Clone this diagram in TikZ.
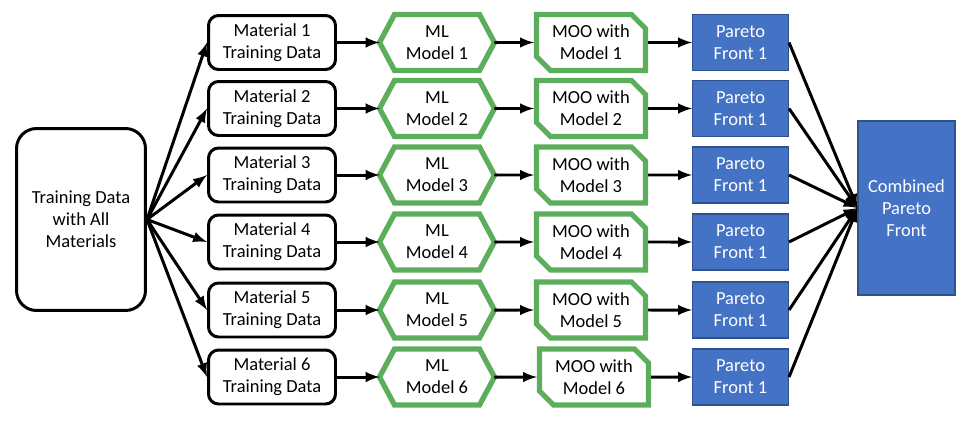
\documentclass[tikz,border=0pt]{standalone}
\usepackage{fontspec}
\setmainfont{Carlito}
\usepackage{xcolor}
\usepackage{tikz}
\usetikzlibrary{arrows}
\usetikzlibrary{shapes.misc}
\definecolor{moogreen}{RGB}{92,173,92}
\definecolor{paretoblue}{RGB}{68,114,196}
\definecolor{paretoedge}{RGB}{47,82,143}
\tikzstyle{alldata} = [draw, line width=1.7pt, rounded corners=0.4cm, minimum width=2.58cm, minimum height=3.64cm, align=center]
\tikzstyle{matdata} = [draw, line width=1.7pt, rounded corners=0.2cm, minimum width=2.54cm, minimum height=1.08cm, align=center]
\tikzstyle{mlmodel} = [minimum width=2.3cm, minimum height=1.12cm, outer sep=0pt, align=center,
	append after command={\pgfextra{\draw[draw=moogreen, line width=3pt]
		(\tikzlastnode.west) -- ([xshift=0.3cm]\tikzlastnode.north west)
		-- ([xshift=-0.3cm]\tikzlastnode.north east) -- (\tikzlastnode.east)
		-- ([xshift=-0.3cm]\tikzlastnode.south east) -- ([xshift=0.3cm]\tikzlastnode.south west) -- cycle;}}]
\tikzstyle{moo} = [draw=moogreen, line width=3pt, chamfered rectangle, chamfered rectangle corners={north east, south west}, chamfered rectangle xsep=0.14cm, chamfered rectangle ysep=0.14cm, minimum width=2.18cm, minimum height=1.12cm, inner sep=0pt, align=center]
\tikzstyle{pareto} = [draw=paretoedge, fill=paretoblue, line width=0.6pt, text=white, minimum width=1.92cm, minimum height=1.12cm, align=center]
\tikzstyle{link} = [->, >=latex, line width=1.7pt]
\begin{document}
\begin{tikzpicture}[x=0.02cm, y=-0.02cm, font=\fontsize{10.5}{12.5}\selectfont]
	\useasboundingbox (0,0) rectangle (969,420);

	\node[alldata] (all) at (81, 219.5) {Training Data\\with All\\Materials} ;

	\node[matdata] (m1) at (272, 42.5) {Material 1\\Training Data} ;
	\node[matdata] (m2) at (272, 108.5) {Material 2\\Training Data} ;
	\node[matdata] (m3) at (272, 175) {Material 3\\Training Data} ;
	\node[matdata] (m4) at (272, 242) {Material 4\\Training Data} ;
	\node[matdata] (m5) at (272, 310) {Material 5\\Training Data} ;
	\node[matdata] (m6) at (272, 377) {Material 6\\Training Data} ;

	\node[mlmodel] (ml1) at (437, 42.5) {ML\\Model 1} ;
	\node[mlmodel] (ml2) at (437, 108.5) {ML\\Model 2} ;
	\node[mlmodel] (ml3) at (437, 175) {ML\\Model 3} ;
	\node[mlmodel] (ml4) at (437, 242) {ML\\Model 4} ;
	\node[mlmodel] (ml5) at (437, 310) {ML\\Model 5} ;
	\node[mlmodel] (ml6) at (437, 377) {ML\\Model 6} ;

	\node[moo] (o1) at (591, 42.5) {MOO with\\Model 1} ;
	\node[moo] (o2) at (591, 108.5) {MOO with\\Model 2} ;
	\node[moo] (o3) at (591, 175) {MOO with\\Model 3} ;
	\node[moo] (o4) at (591, 242) {MOO with\\Model 4} ;
	\node[moo] (o5) at (591, 310) {MOO with\\Model 5} ;
	\node[moo] (o6) at (594, 377) {MOO with\\Model 6} ;

	\node[pareto] (p1) at (740.5, 42.5) {Pareto\\Front 1} ;
	\node[pareto] (p2) at (740.5, 108.5) {Pareto\\Front 1} ;
	\node[pareto] (p3) at (740.5, 175) {Pareto\\Front 1} ;
	\node[pareto] (p4) at (740.5, 242) {Pareto\\Front 1} ;
	\node[pareto] (p5) at (740.5, 310) {Pareto\\Front 1} ;
	\node[pareto] (p6) at (740.5, 377) {Pareto\\Front 1} ;

	\node[pareto, minimum width=1.94cm, minimum height=3.48cm] (comb) at (906.5, 208) {Combined\\Pareto\\Front} ;

	\draw[link] (all.east) -- (m1.west) ;
	\draw[link] (all.east) -- (m2.west) ;
	\draw[link] (all.east) -- (m3.west) ;
	\draw[link] (all.east) -- (m4.west) ;
	\draw[link] (all.east) -- (m5.west) ;
	\draw[link] (all.east) -- (m6.west) ;

	\draw[link] (m1) -- (ml1) ;
	\draw[link] (m2) -- (ml2) ;
	\draw[link] (m3) -- (ml3) ;
	\draw[link] (m4) -- (ml4) ;
	\draw[link] (m5) -- (ml5) ;
	\draw[link] (m6) -- (ml6) ;

	\draw[link] (ml1) -- (o1) ;
	\draw[link] (ml2) -- (o2) ;
	\draw[link] (ml3) -- (o3) ;
	\draw[link] (ml4) -- (o4) ;
	\draw[link] (ml5) -- (o5) ;
	\draw[link] (ml6) -- (o6) ;

	\draw[link] (o1) -- (p1) ;
	\draw[link] (o2) -- (p2) ;
	\draw[link] (o3) -- (p3) ;
	\draw[link] (o4) -- (p4) ;
	\draw[link] (o5) -- (p5) ;
	\draw[link] (o6) -- (p6) ;

	\draw[link] (p1.east) -- (comb.west) ;
	\draw[link] (p2.east) -- (comb.west) ;
	\draw[link] (p3.east) -- (comb.west) ;
	\draw[link] (p4.east) -- (comb.west) ;
	\draw[link] (p5.east) -- (comb.west) ;
	\draw[link] (p6.east) -- (comb.west) ;
\end{tikzpicture}
\end{document}
